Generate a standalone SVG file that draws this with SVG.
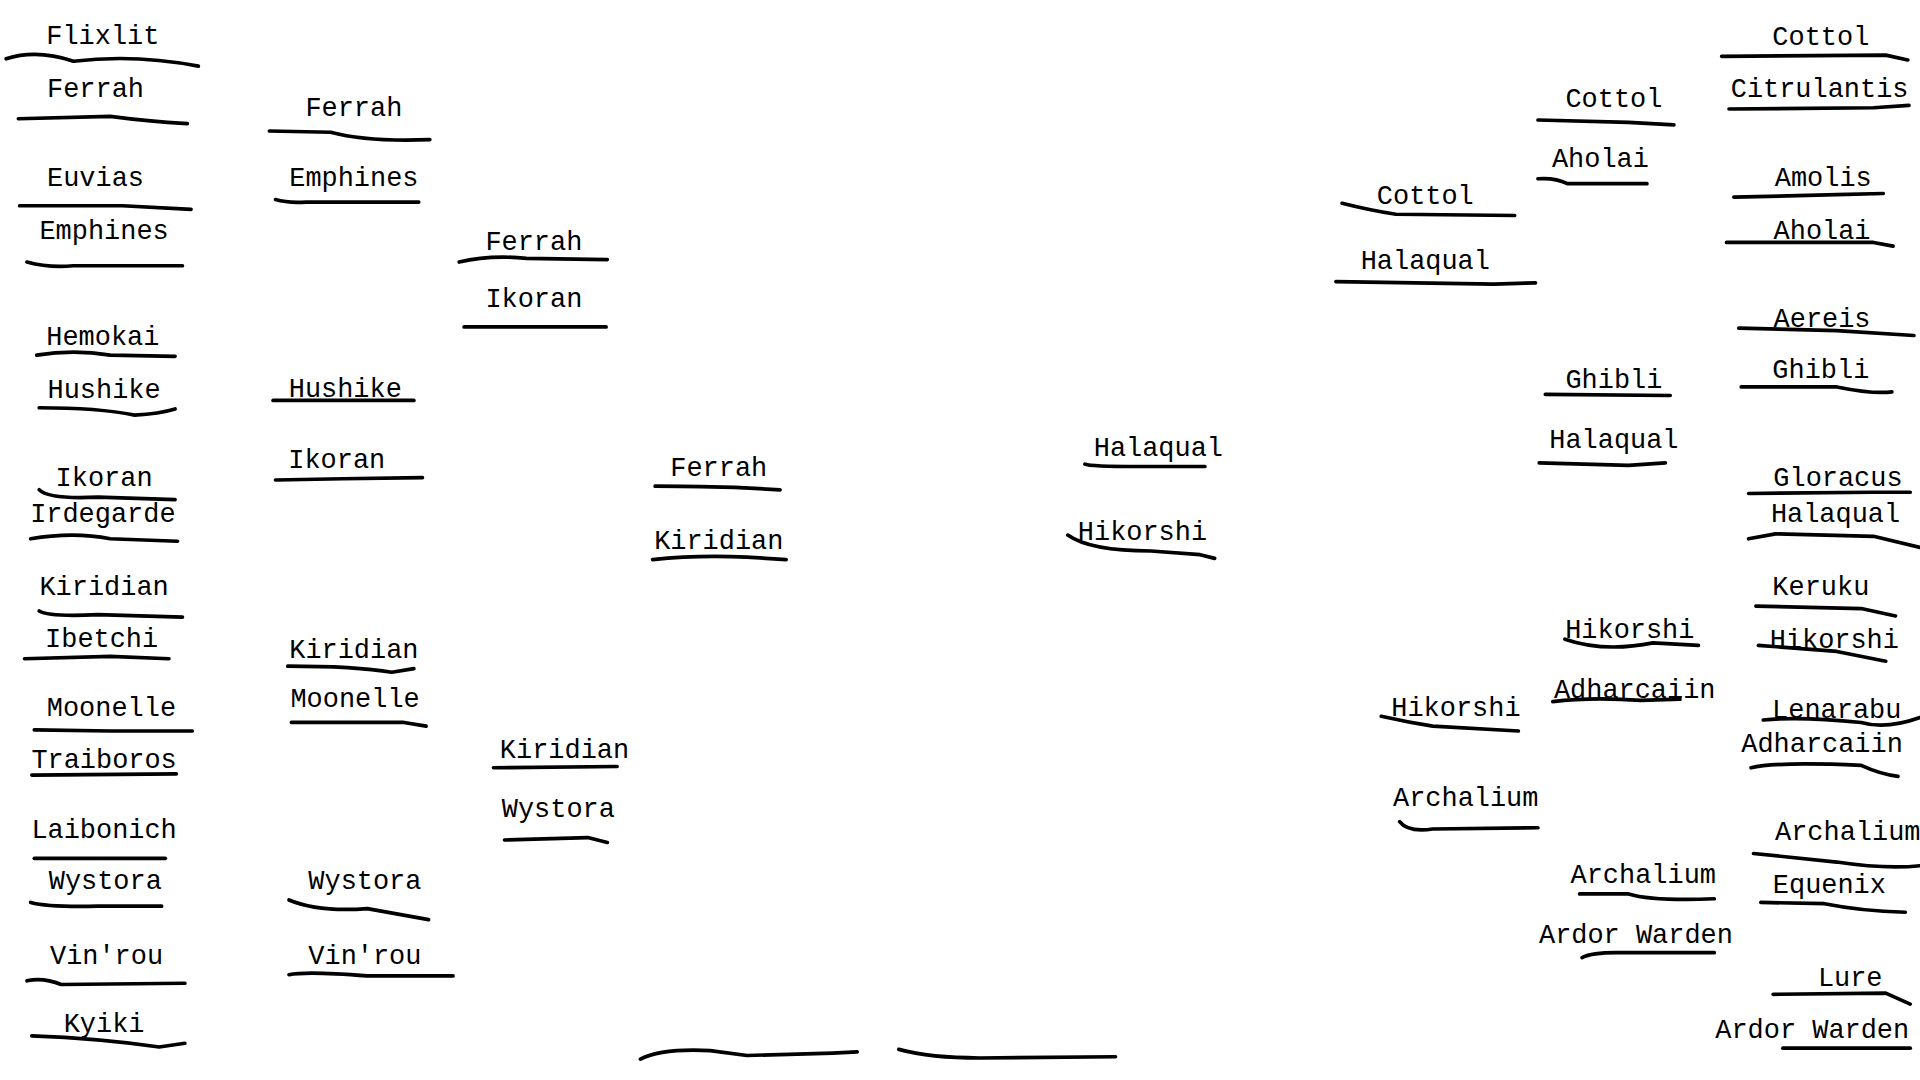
<svg xmlns="http://www.w3.org/2000/svg" width="1920" height="1080" viewBox="0 0 1920 1080">
<style>
text{font-family:"Liberation Mono","DejaVu Sans Mono",monospace;font-size:22px;fill:#000;text-anchor:middle}
path{fill:none;stroke:#000;stroke-width:3;stroke-linecap:round;stroke-linejoin:round}
</style>
<rect width="1920" height="1080" fill="#fff"/>
<g transform="scale(1.2245)">
<g id="l1">
<g id="n1"><text x="84" y="36">Flixlit</text><path d="M5 48 Q30 40 60 50 Q110 44 162 54"/></g>
<g id="n2"><text x="78" y="79">Ferrah</text><path d="M15 97 L90 95 Q120 99 153 101"/></g>
<g id="n3"><text x="78" y="152">Euvias</text><path d="M16 168 L100 168 L156 171"/></g>
<g id="n4"><text x="85" y="195">Emphines</text><path d="M22 214 Q40 219 60 217 L149 217"/></g>
<g id="n5"><text x="84" y="282">Hemokai</text><path d="M30 290 Q60 285 90 290 L143 291"/></g>
<g id="n6"><text x="85" y="325">Hushike</text><path d="M32 333 Q80 333 110 339 Q130 338 143 334"/></g>
<g id="n7"><text x="85" y="397">Ikoran</text><path d="M32 400 Q40 408 80 406 L143 408"/></g>
<g id="n8"><text x="84" y="426">Irdegarde</text><path d="M25 440 Q60 434 90 440 L145 442"/></g>
<g id="n9"><text x="85" y="486">Kiridian</text><path d="M32 499 Q40 504 80 502 L149 504"/></g>
<g id="n10"><text x="83" y="528">Ibetchi</text><path d="M20 538 L90 536 L138 538"/></g>
<g id="n11"><text x="91" y="585">Moonelle</text><path d="M28 596 L90 597 L157 597"/></g>
<g id="n12"><text x="85" y="627">Traiboros</text><path d="M26 633 L144 632"/></g>
<g id="n13"><text x="85" y="684">Laibonich</text><path d="M28 701 L135 701"/></g>
<g id="n14"><text x="86" y="726">Wystora</text><path d="M25 737 Q40 741 80 740 L132 740"/></g>
<g id="n15"><text x="87" y="787">Vin'rou</text><path d="M22 801 Q35 798 50 804 L151 803"/></g>
<g id="n16"><text x="85" y="843">Kyiki</text><path d="M26 846 Q80 848 130 855 L151 852"/></g>
</g>
<g id="l2">
<g id="n17"><text x="289" y="95">Ferrah</text><path d="M220 107 L270 108 Q300 116 351 114"/></g>
<g id="n18"><text x="289" y="152">Emphines</text><path d="M225 163 Q235 166 250 165 L342 165"/></g>
<g id="n19"><text x="282" y="324">Hushike</text><path d="M223 327 L338 327"/></g>
<g id="n20"><text x="275" y="382">Ikoran</text><path d="M225 392 L280 391 L345 390"/></g>
<g id="n21"><text x="289" y="537">Kiridian</text><path d="M235 544 Q290 544 320 549 L338 546"/></g>
<g id="n22"><text x="290" y="577">Moonelle</text><path d="M238 590 L330 590 L348 593"/></g>
<g id="n23"><text x="298" y="726">Wystora</text><path d="M236 735 Q260 745 300 742 L350 751"/></g>
<g id="n24"><text x="298" y="787">Vin'rou</text><path d="M236 796 Q250 793 300 797 L370 797"/></g>
</g>
<g id="l3">
<g id="n25"><text x="436" y="204">Ferrah</text><path d="M375 214 Q400 208 430 211 L496 212"/></g>
<g id="n26"><text x="436" y="251">Ikoran</text><path d="M379 267 L495 267"/></g>
<g id="n27"><text x="461" y="619">Kiridian</text><path d="M403 627 L504 626"/></g>
<g id="n28"><text x="456" y="667">Wystora</text><path d="M412 686 L480 684 L496 688"/></g>
</g>
<g id="l4">
<g id="n29"><text x="587" y="389">Ferrah</text><path d="M535 397 Q560 397 600 398 L637 400"/></g>
<g id="n30"><text x="587" y="448">Kiridian</text><path d="M533 457 Q570 453 610 455 L642 457"/></g>
</g>
<g id="final">
<path d="M523 865 Q540 856 580 858 L610 862 L680 860 L700 859"/>
<path d="M734 857 Q760 864 800 864 L911 863"/>
</g>
<g id="r4">
<g id="n31"><text x="946" y="372">Halaqual</text><path d="M886 379 Q890 381 930 381 L984 381"/></g>
<g id="n32"><text x="933" y="441">Hikorshi</text><path d="M872 437 Q890 450 940 450 L980 453 L992 456"/></g>
</g>
<g id="r3">
<g id="n33"><text x="1164" y="167">Cottol</text><path d="M1096 166 Q1120 172 1140 175 L1237 176"/></g>
<g id="n34"><text x="1164" y="220">Halaqual</text><path d="M1091 230 L1220 232 L1254 231"/></g>
<g id="n35"><text x="1189" y="585">Hikorshi</text><path d="M1128 585 Q1150 590 1170 593 L1240 597"/></g>
<g id="n36"><text x="1197" y="658">Archalium</text><path d="M1143 671 Q1150 680 1170 677 L1256 676"/></g>
</g>
<g id="r2">
<g id="n37"><text x="1318" y="87">Cottol</text><path d="M1256 98 L1330 100 L1367 102"/></g>
<g id="n38"><text x="1307" y="136">Aholai</text><path d="M1256 146 Q1270 145 1280 150 L1345 150"/></g>
<g id="n39"><text x="1318" y="317">Ghibli</text><path d="M1262 322 L1364 323"/></g>
<g id="n40"><text x="1318" y="366">Halaqual</text><path d="M1257 378 L1330 380 L1360 378"/></g>
<g id="n41"><text x="1331" y="521">Hikorshi</text><path d="M1278 522 Q1310 533 1350 525 L1387 527"/></g>
<g id="n42"><text x="1335" y="570">Adharcaiin</text><path d="M1268 573 Q1300 569 1340 572 L1372 571"/></g>
<g id="n43"><text x="1342" y="721">Archalium</text><path d="M1290 730 L1330 730 Q1350 736 1400 734"/></g>
<g id="n44"><text x="1336" y="770">Ardor Warden</text><path d="M1292 782 Q1300 778 1320 778 L1400 778"/></g>
</g>
<g id="r1">
<g id="n45"><text x="1487" y="37">Cottol</text><path d="M1406 46 L1540 45 L1558 49"/></g>
<g id="n46"><text x="1486" y="79">Citrulantis</text><path d="M1412 89 L1530 88 L1559 86"/></g>
<g id="n47"><text x="1489" y="152">Amolis</text><path d="M1416 161 L1500 159 L1538 158"/></g>
<g id="n48"><text x="1488" y="195">Aholai</text><path d="M1410 198 L1530 198 L1546 201"/></g>
<g id="n49"><text x="1488" y="267">Aereis</text><path d="M1420 268 L1500 270 L1563 274"/></g>
<g id="n50"><text x="1487" y="309">Ghibli</text><path d="M1422 316 L1500 316 Q1530 322 1545 320"/></g>
<g id="n51"><text x="1501" y="397">Gloracus</text><path d="M1428 403 L1530 402 L1560 402"/></g>
<g id="n52"><text x="1499" y="426">Halaqual</text><path d="M1428 440 L1450 436 L1530 438 L1568 447"/></g>
<g id="n53"><text x="1487" y="486">Keruku</text><path d="M1434 495 L1520 497 L1548 503"/></g>
<g id="n54"><text x="1498" y="529">Hikorshi</text><path d="M1436 527 Q1460 529 1500 532 L1540 540"/></g>
<g id="n55"><text x="1500" y="586">Lenarabu</text><path d="M1440 588 Q1470 585 1520 590 Q1540 596 1568 586"/></g>
<g id="n56"><text x="1488" y="614">Adharcaiin</text><path d="M1430 627 Q1450 622 1520 625 Q1535 632 1550 634"/></g>
<g id="n57"><text x="1509" y="686">Archalium</text><path d="M1432 697 Q1460 700 1500 704 Q1540 710 1568 707"/></g>
<g id="n58"><text x="1494" y="729">Equenix</text><path d="M1438 737 L1490 738 Q1520 744 1556 745"/></g>
<g id="n59"><text x="1511" y="805">Lure</text><path d="M1448 812 L1540 811 L1560 820"/></g>
<g id="n60"><text x="1480" y="848">Ardor Warden</text><path d="M1456 856 L1560 856"/></g>
</g>
</g>
</svg>
